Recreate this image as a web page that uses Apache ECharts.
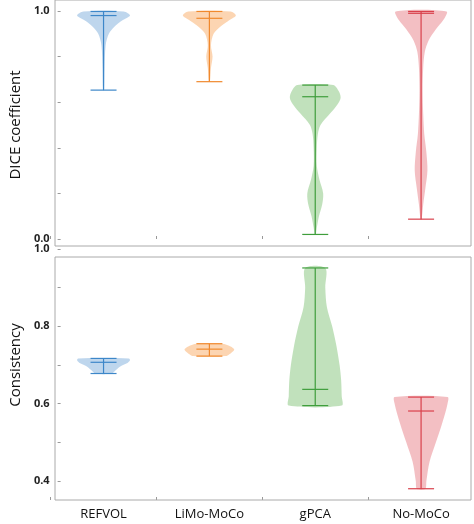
<!DOCTYPE html>
<html>
<head>
<meta charset="utf-8">
<script src="https://cdn.jsdelivr.net/npm/echarts@6/dist/echarts.min.js"></script>
<style>html,body{margin:0;padding:0;background:#fff}#container{width:474px;height:524px}</style>
</head>
<body>
<div id="container"></div>
<script>
var categories = ['REFVOL', 'LiMo-MoCo', 'gPCA', 'No-MoCo'];
var colors = ['#3d87c9', '#f0892d', '#3f9e3c', '#d9414c'];
var fills = ['#b3cfea', '#fccea4', '#b6dcb0', '#f1b4b9'];

// [min, median, max]
var diceStats = [[0.653, 0.98, 0.998], [0.69, 0.968, 0.998], [0.02, 0.624, 0.675], [0.087, 0.99, 0.998]];
var consStats = [[0.678, 0.707, 0.717], [0.723, 0.741, 0.755], [0.595, 0.637, 0.951], [0.38, 0.581, 0.617]];

// density profiles: [value, half width (fraction of half band)]
var diceShape = [
  [[0.653, 0.01], [0.75, 0.02], [0.85, 0.04], [0.9, 0.1], [0.93, 0.2], [0.955, 0.33], [0.98, 0.5], [0.998, 0.38]],
  [[0.69, 0.01], [0.75, 0.03], [0.8, 0.06], [0.85, 0.03], [0.9, 0.08], [0.93, 0.2], [0.955, 0.35], [0.98, 0.5], [0.998, 0.4]],
  [[0.02, 0.01], [0.05, 0.03], [0.1, 0.07], [0.15, 0.13], [0.2, 0.15], [0.26, 0.08], [0.32, 0.03], [0.4, 0.03], [0.46, 0.05], [0.5, 0.1], [0.55, 0.28], [0.59, 0.42], [0.62, 0.48], [0.65, 0.44], [0.675, 0.34]],
  [[0.087, 0.01], [0.15, 0.04], [0.22, 0.08], [0.3, 0.12], [0.38, 0.1], [0.46, 0.06], [0.55, 0.04], [0.65, 0.03], [0.75, 0.04], [0.82, 0.07], [0.87, 0.14], [0.92, 0.28], [0.96, 0.42], [0.998, 0.48]]
];
var consShape = [
  [[0.678, 0.15], [0.688, 0.24], [0.698, 0.34], [0.706, 0.46], [0.712, 0.5], [0.717, 0.48]],
  [[0.723, 0.3], [0.73, 0.4], [0.74, 0.47], [0.748, 0.4], [0.755, 0.24]],
  [[0.595, 0.5], [0.62, 0.5], [0.66, 0.49], [0.7, 0.46], [0.75, 0.4], [0.8, 0.32], [0.85, 0.22], [0.9, 0.19], [0.951, 0.19]],
  [[0.38, 0.08], [0.4, 0.1], [0.45, 0.16], [0.5, 0.28], [0.55, 0.4], [0.6, 0.5], [0.617, 0.5]]
];

function violin(stats, shapes) {
  return function (params, api) {
    var i = api.value(0);
    var cx = api.coord([i, 0])[0];
    var half = api.size([1, 0])[0] / 2;
    var sh = shapes[i], st = stats[i];
    var left = [], right = [];
    sh.forEach(function (p) {
      var y = api.coord([i, p[0]])[1];
      right.push([cx + p[1] * half, y]);
      left.unshift([cx - p[1] * half, y]);
    });
    var cap = 13;
    var yMin = api.coord([i, st[0]])[1], yMed = api.coord([i, st[1]])[1], yMax = api.coord([i, st[2]])[1];
    var ls = { stroke: colors[i], lineWidth: 1.2 };
    return {
      type: 'group',
      children: [
        { type: 'polygon', shape: { points: right.concat(left), smooth: 0.3 }, style: { fill: fills[i], opacity: 0.85 } },
        { type: 'line', shape: { x1: cx, y1: yMin, x2: cx, y2: yMax }, style: ls },
        { type: 'line', shape: { x1: cx - cap, y1: yMin, x2: cx + cap, y2: yMin }, style: ls },
        { type: 'line', shape: { x1: cx - cap, y1: yMax, x2: cx + cap, y2: yMax }, style: ls },
        { type: 'line', shape: { x1: cx - cap, y1: yMed, x2: cx + cap, y2: yMed }, style: ls }
      ]
    };
  };
}

var myChart = echarts.init(document.getElementById('container'), null, { renderer: 'canvas' });
var option = {
  animation: false,
  graphic: [
    { type: 'rect', shape: { x: 55, y: 0, width: 416, height: 246 }, style: { fill: 'none', stroke: '#aaa', lineWidth: 1 }, z: 10 },
    { type: 'rect', shape: { x: 55, y: 257, width: 416, height: 243 }, style: { fill: 'none', stroke: '#aaa', lineWidth: 1 }, z: 10 }
  ],
  grid: [
    { left: 48, right: 0, top: 11, height: 228 },
    { left: 48, right: 0, top: 249, height: 232 }
  ],
  xAxis: [
    { type: 'category', gridIndex: 0, data: categories, offset: 7, axisLine: { show: false },
      axisTick: { show: true, inside: true, length: 3, lineStyle: { color: '#999' } },
      axisLabel: { show: false } },
    { type: 'category', gridIndex: 1, data: categories, offset: 19, axisLine: { show: false },
      axisTick: { show: true, inside: true, length: 3, lineStyle: { color: '#999' } },
      axisLabel: { color: '#111', fontFamily: 'Open Sans', fontSize: 13, margin: 8 } }
  ],
  yAxis: [
    { type: 'value', gridIndex: 0, min: 0, max: 1, interval: 0.2, offset: -7,
      name: 'DICE coefficient', nameLocation: 'middle', nameGap: 30,
      nameTextStyle: { fontFamily: 'Open Sans', fontSize: 15, color: '#111' },
      axisLine: { show: false }, splitLine: { show: false },
      axisTick: { show: true, inside: true, length: 3, lineStyle: { color: '#999' } },
      axisLabel: { fontFamily: 'Open Sans', fontSize: 11, color: '#222', fontWeight: 'bold', margin: 8,
        formatter: function (v) { return v === 0 || v === 1 ? v.toFixed(1) : ''; } } },
    { type: 'value', gridIndex: 1, min: 0.4, max: 1.0, interval: 0.1, offset: -7,
      name: 'Consistency', nameLocation: 'middle', nameGap: 30,
      nameTextStyle: { fontFamily: 'Open Sans', fontSize: 15, color: '#111' },
      axisLine: { show: false }, splitLine: { show: false },
      axisTick: { show: true, inside: true, length: 3, lineStyle: { color: '#999' } },
      axisLabel: { fontFamily: 'Open Sans', fontSize: 11, color: '#222', fontWeight: 'bold', margin: 8,
        formatter: function (v) { var r = Math.round(v * 10); return r % 2 === 0 ? v.toFixed(1) : ''; } } }
  ],
  series: [
    { type: 'custom', xAxisIndex: 0, yAxisIndex: 0, clip: false, renderItem: violin(diceStats, diceShape), data: [[0], [1], [2], [3]] },
    { type: 'custom', xAxisIndex: 1, yAxisIndex: 1, clip: false, renderItem: violin(consStats, consShape), data: [[0], [1], [2], [3]] }
  ]
};
myChart.setOption(option);
window.addEventListener('resize', myChart.resize);
</script>
</body>
</html>
